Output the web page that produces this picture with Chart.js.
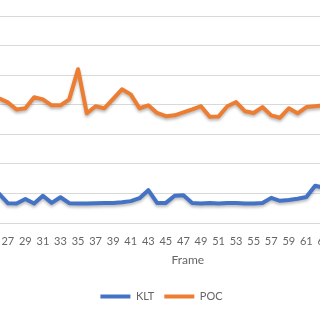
<!DOCTYPE html>
<html>
<head>
<meta charset="utf-8">
<script src="https://cdn.jsdelivr.net/npm/chart.js@4.4.0/dist/chart.umd.min.js"></script>
<style>
  html, body { margin: 0; padding: 0; background: #fff; overflow: hidden; }
  #wrap { position: absolute; left: -72px; top: 0; width: 467px; height: 320px; }
</style>
</head>
<body>
<div id="wrap"><canvas id="trackChart"></canvas></div>
<script>
// Frames visible in the picture (the chart is cropped on both sides)
const frames = [26, 27, 28, 29, 30, 31, 32, 33, 34, 35, 36, 37, 38, 39, 40, 41, 42, 43, 44, 45,
  46, 47, 48, 49, 50, 51, 52, 53, 54, 55, 56, 57, 58, 59, 60, 61, 62, 63, 64, 65, 66, 67, 68, 69];

const kltValues = [9.9, 6.7, 6.6, 8.1, 6.6, 9.2, 6.8, 8.7, 6.7, 6.6, 6.6, 6.7, 6.8, 6.8, 7.0, 7.4, 8.4, 11.1, 6.8, 6.8,
  9.2, 9.4, 6.8, 6.6, 6.8, 6.6, 6.8, 6.8, 6.6, 6.6, 6.8, 8.5, 7.5, 7.8, 8.2, 8.8, 12.6, 11.9,
  null, null, null, null, null, null];

const pocValues = [42.2, 40.8, 38.4, 38.8, 42.5, 41.8, 39.8, 39.8, 41.8, 52.0, 37.1, 39.5, 38.8, 42.0, 45.2, 43.5, 38.8, 39.8, 37.2, 36.1,
  36.4, 37.4, 38.4, 39.5, 35.9, 36.0, 39.5, 40.9, 37.8, 37.2, 39.2, 36.4, 35.6, 38.8, 37.1, 39.2, 39.5, 39.8,
  null, null, null, null, null, null];

const yTicks = { min: 0, max: 70, step: 10 };

// soft shadow under the lines, like the Excel original
const lineShadow = {
  id: 'lineShadow',
  beforeDatasetsDraw(chart) {
    const ctx = chart.ctx;
    ctx.save();
    ctx.shadowColor = 'rgba(0,0,0,0.28)';
    ctx.shadowBlur = 3;
    ctx.shadowOffsetY = 2;
  },
  afterDatasetsDraw(chart) {
    chart.ctx.restore();
  }
};

const ctx = document.getElementById('trackChart').getContext('2d');
new Chart(ctx, {
  type: 'line',
  data: {
    labels: frames,
    datasets: [{
      label: 'KLT',
      data: kltValues,
      borderColor: '#4472C4',
      backgroundColor: '#4472C4',
      borderWidth: 4,
      pointRadius: 0,
      tension: 0,
      borderJoinStyle: 'round',
      borderCapStyle: 'round'
    }, {
      label: 'POC',
      data: pocValues,
      borderColor: '#ED7D31',
      backgroundColor: '#ED7D31',
      borderWidth: 4,
      pointRadius: 0,
      tension: 0,
      borderJoinStyle: 'round',
      borderCapStyle: 'round'
    }]
  },
  options: {
    responsive: true,
    maintainAspectRatio: false,
    animation: false,
    layout: { padding: { top: 16, bottom: 8, left: 0, right: 0 } },
    plugins: {
      tooltip: { enabled: false },
      legend: {
        position: 'bottom',
        labels: {
          usePointStyle: true,
          pointStyle: 'line',
          pointStyleWidth: 30,
          padding: 10,
          color: '#666',
          font: { family: 'Lato', size: 11 }
        }
      }
    },
    scales: {
      x: {
        grid: { display: false, drawTicks: false },
        border: { color: '#d9d9d9', width: 1 },
        ticks: {
          autoSkip: false,
          maxRotation: 0,
          minRotation: 0,
          padding: 12,
          color: '#666',
          font: { family: 'Lato', size: 11 },
          callback: function (val, i) {
            const f = frames[i];
            return f % 2 === 1 ? String(f) : '';
          }
        },
        title: {
          display: true,
          text: 'Frame',
          color: '#666',
          font: { family: 'Lato', size: 12 },
          padding: { top: 6, bottom: 14 }
        },
        afterFit: function (scale) { scale.height = 58; }
      },
      y: {
        min: yTicks.min,
        max: yTicks.max,
        ticks: { display: false, stepSize: yTicks.step },
        grid: { color: '#d9d9d9', drawTicks: false },
        border: { display: false },
        afterFit: function (scale) { scale.width = 71; }
      }
    }
  },
  plugins: [lineShadow]
});
</script>
</body>
</html>
